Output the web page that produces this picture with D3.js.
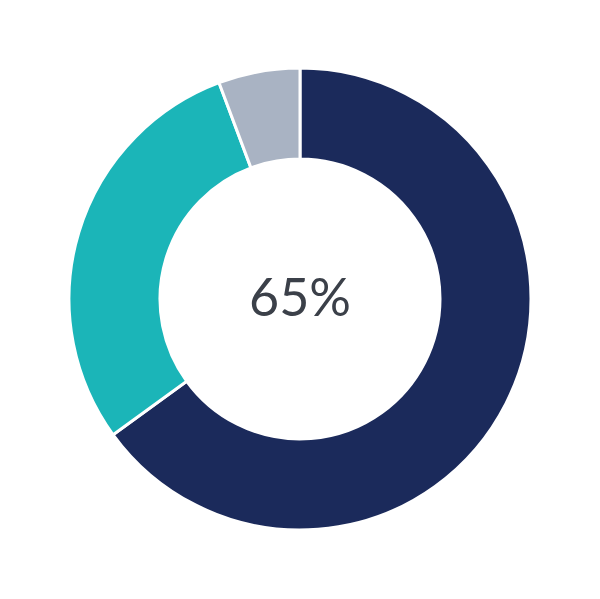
<!DOCTYPE html>
<html>
<head>
<meta charset="utf-8">
<script src="https://cdn.jsdelivr.net/npm/d3@7"></script>
<style>
  body { margin: 0; background: #fff; }
</style>
</head>
<body>
<div id="chart"></div>
<script>
var labels = ['A', 'B', 'C'];
var values = [65, 29.3, 5.7];
var colors = ['#1b2a5b', '#1bb5b8', '#a9b3c3'];
var centerLabel = '65%';

var width = 600, height = 599;
var cx = 300, cy = 299;
var outerR = 231, innerR = 140;

var svg = d3.select('#chart').append('svg')
    .attr('width', width).attr('height', height);

var pie = d3.pie().sort(null).value(function(d) { return d; });
var arc = d3.arc().innerRadius(innerR).outerRadius(outerR);

var g = svg.append('g').attr('transform', 'translate(' + cx + ',' + cy + ')');

g.selectAll('path')
    .data(pie(values))
    .enter().append('path')
    .attr('d', arc)
    .attr('fill', function(d, i) { return colors[i]; })
    .attr('stroke', '#fff')
    .attr('stroke-width', 3);

g.append('text')
    .attr('text-anchor', 'middle')
    .attr('dy', '0.33em')
    .attr('font-family', 'Lato, sans-serif')
    .attr('font-weight', 400)
    .attr('font-size', '52px')
    .attr('fill', '#3b4049')
    .text(centerLabel);
</script>
</body>
</html>
